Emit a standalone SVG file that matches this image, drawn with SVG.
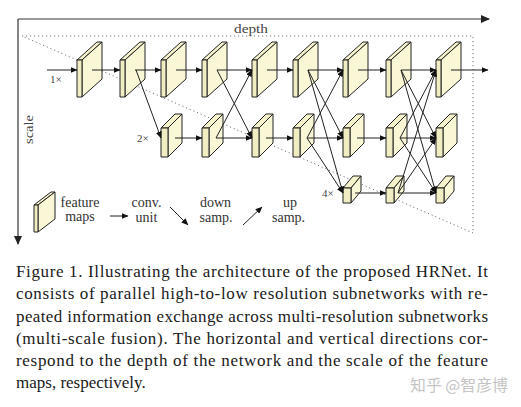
<svg xmlns="http://www.w3.org/2000/svg" xmlns:xlink="http://www.w3.org/1999/xlink" width="521" height="407" viewBox="0 0 521 407">
<style>
.face{stroke:#222;stroke-width:1;stroke-linejoin:round}
.fr{fill:#f1edc2}
.bg{fill:#f9f7d6}
.tp{fill:#f5f2cb}
.axis{stroke:#333;stroke-width:1.2;fill:none}
.dot{stroke:#777;stroke-width:1;stroke-dasharray:1.2 2.8;fill:none}
.conn line{stroke:#222;stroke-width:1;marker-end:url(#ah)}
.lbl{font-family:"Liberation Serif","DejaVu Serif",serif;fill:#444}
.leg{font-family:"Liberation Serif","DejaVu Serif",serif;font-size:14px;fill:#333;text-anchor:middle}
.cap{font-family:"Liberation Serif","Times New Roman",serif;font-size:17px;fill:#1a1a1a}
</style>
<defs>
<marker id="ah" markerWidth="7" markerHeight="6" refX="6.5" refY="3" orient="auto" markerUnits="userSpaceOnUse"><path d="M0,0 L7,3 L0,6 Z" fill="#111"/></marker>
<marker id="axh" markerWidth="9" markerHeight="8" refX="8" refY="4" orient="auto" markerUnits="userSpaceOnUse"><path d="M0,0 L9,4 L0,8 Z" fill="#222"/></marker>
<g id="b1">
<path class="face tp" d="M0,60 L20,42 L25,42 L5,60 Z"/>
<path class="face bg" d="M5,60 L25,42 L25,79 L5,97 Z"/>
<rect class="face fr" x="0" y="60" width="5" height="37"/>
</g>
<g id="b2">
<path class="face tp" d="M0,128 L14,114 L21,114 L7,128 Z"/>
<path class="face bg" d="M7,128 L21,114 L21,143 L7,157 Z"/>
<rect class="face fr" x="0" y="128" width="7" height="29"/>
</g>
<g id="b3">
<path class="face tp" d="M0,188 L10,176 L18,176 L8,188 Z"/>
<path class="face bg" d="M8,188 L18,176 L18,191 L8,203 Z"/>
<rect class="face fr" x="0" y="188" width="8" height="15"/>
</g>
<g id="bl">
<path class="face tp" d="M34,205 L51,192 L55,192 L38,205 Z"/>
<path class="face bg" d="M38,205 L55,192 L55,219 L38,232 Z"/>
<rect class="face fr" x="34" y="205" width="4" height="27"/>
</g>
</defs>
<rect width="521" height="407" fill="#fff"/>
<g id="axes">
<path class="axis" d="M18,19 L489,19" marker-end="url(#axh)"/>
<path class="axis" d="M18,19 L18,244" marker-end="url(#axh)"/>
<text class="lbl" x="251" y="33" font-size="13.5" text-anchor="middle" textLength="34" lengthAdjust="spacingAndGlyphs">depth</text>
<text class="lbl" transform="translate(33,129.5) rotate(-90)" font-size="13.5" text-anchor="middle" textLength="29" lengthAdjust="spacingAndGlyphs">scale</text>
</g>
<g id="region">
<path class="dot" d="M22,36 L473,36 L473,233 L22,36"/>
</g>
<g id="labels">
<text class="lbl" x="50" y="83" font-size="11">1×</text>
<text class="lbl" x="137" y="142" font-size="11">2×</text>
<text class="lbl" x="322" y="197" font-size="11">4×</text>
</g>
<g id="r1c1"><use xlink:href="#b1" x="77"/></g>
<g id="r1c2"><use xlink:href="#b1" x="120"/></g>
<g id="r1c3"><use xlink:href="#b1" x="161"/></g>
<g id="r1c4"><use xlink:href="#b1" x="202"/></g>
<g id="r1c5"><use xlink:href="#b1" x="252"/></g>
<g id="r1c6"><use xlink:href="#b1" x="293"/></g>
<g id="r1c7"><use xlink:href="#b1" x="343"/></g>
<g id="r1c8"><use xlink:href="#b1" x="386"/></g>
<g id="r1c9"><use xlink:href="#b1" x="436"/></g>
<g id="r2c3"><use xlink:href="#b2" x="161"/></g>
<g id="r2c4"><use xlink:href="#b2" x="202"/></g>
<g id="r2c5"><use xlink:href="#b2" x="252"/></g>
<g id="r2c6"><use xlink:href="#b2" x="293"/></g>
<g id="r2c7"><use xlink:href="#b2" x="343"/></g>
<g id="r2c8"><use xlink:href="#b2" x="386"/></g>
<g id="r2c9"><use xlink:href="#b2" x="436"/></g>
<g id="r3c7"><use xlink:href="#b3" x="343"/></g>
<g id="r3c8"><use xlink:href="#b3" x="386"/></g>
<g id="r3c9"><use xlink:href="#b3" x="436"/></g>
<g id="connectors" class="conn">
<line x1="47" y1="70" x2="77" y2="70"/>
<line x1="92" y1="70" x2="120" y2="70"/>
<line x1="135" y1="70" x2="161" y2="70"/>
<line x1="176" y1="70" x2="202" y2="70"/>
<line x1="217" y1="70" x2="252" y2="70"/>
<line x1="267" y1="70" x2="293" y2="70"/>
<line x1="308" y1="70" x2="343" y2="70"/>
<line x1="358" y1="70" x2="386" y2="70"/>
<line x1="401" y1="70" x2="436" y2="70"/>
<line x1="451" y1="70" x2="488" y2="70"/>
<line x1="136" y1="70" x2="161" y2="138"/>
<line x1="175" y1="138" x2="202" y2="138"/>
<line x1="216" y1="138" x2="252" y2="138"/>
<line x1="266" y1="138" x2="293" y2="138"/>
<line x1="307" y1="138" x2="343" y2="138"/>
<line x1="357" y1="138" x2="386" y2="138"/>
<line x1="400" y1="138" x2="436" y2="138"/>
<line x1="217" y1="70" x2="252" y2="138"/>
<line x1="216" y1="138" x2="252" y2="70"/>
<line x1="308" y1="70" x2="343" y2="138"/>
<line x1="308" y1="70" x2="343" y2="193"/>
<line x1="307" y1="138" x2="343" y2="70"/>
<line x1="307" y1="138" x2="343" y2="193"/>
<line x1="355" y1="193" x2="386" y2="193"/>
<line x1="398" y1="193" x2="436" y2="193"/>
<line x1="401" y1="70" x2="436" y2="138"/>
<line x1="401" y1="70" x2="436" y2="193"/>
<line x1="400" y1="138" x2="436" y2="70"/>
<line x1="400" y1="138" x2="436" y2="193"/>
<line x1="398" y1="193" x2="436" y2="70"/>
<line x1="398" y1="193" x2="436" y2="138"/>
<line x1="110" y1="216" x2="128" y2="216"/>
<line x1="170" y1="207" x2="188" y2="225"/>
<line x1="243" y1="225" x2="262" y2="207"/>
</g>
<g id="legend">
<g id="leg-block"><use xlink:href="#bl"/></g>
<text class="leg" x="80" y="207">feature</text>
<text class="leg" x="80" y="221">maps</text>
<text class="leg" x="146.5" y="207">conv.</text>
<text class="leg" x="146.5" y="222">unit</text>
<text class="leg" x="215.5" y="207">down</text>
<text class="leg" x="216" y="222">samp.</text>
<text class="leg" x="290" y="207">up</text>
<text class="leg" x="288.5" y="222">samp.</text>
</g>
<g id="caption">
<text class="cap" x="16" y="277" textLength="472" lengthAdjust="spacing">Figure 1. Illustrating the architecture of the proposed HRNet. It</text>
<text class="cap" x="16" y="299" textLength="472" lengthAdjust="spacing">consists of parallel high-to-low resolution subnetworks with re-</text>
<text class="cap" x="16" y="321.5" textLength="472" lengthAdjust="spacing">peated information exchange across multi-resolution subnetworks</text>
<text class="cap" x="16" y="344" textLength="472" lengthAdjust="spacing">(multi-scale fusion).  The horizontal and vertical directions cor-</text>
<text class="cap" x="16" y="366" textLength="472" lengthAdjust="spacing">respond to the depth of the network and the scale of the feature</text>
<text class="cap" x="16" y="388">maps, respectively.</text>
</g>
<text x="410" y="391" font-family="'Noto Sans CJK SC','Noto Sans',sans-serif" font-size="15.5" fill="#c4c4c4" textLength="98" lengthAdjust="spacingAndGlyphs">知乎 @智彦博</text>
</svg>
